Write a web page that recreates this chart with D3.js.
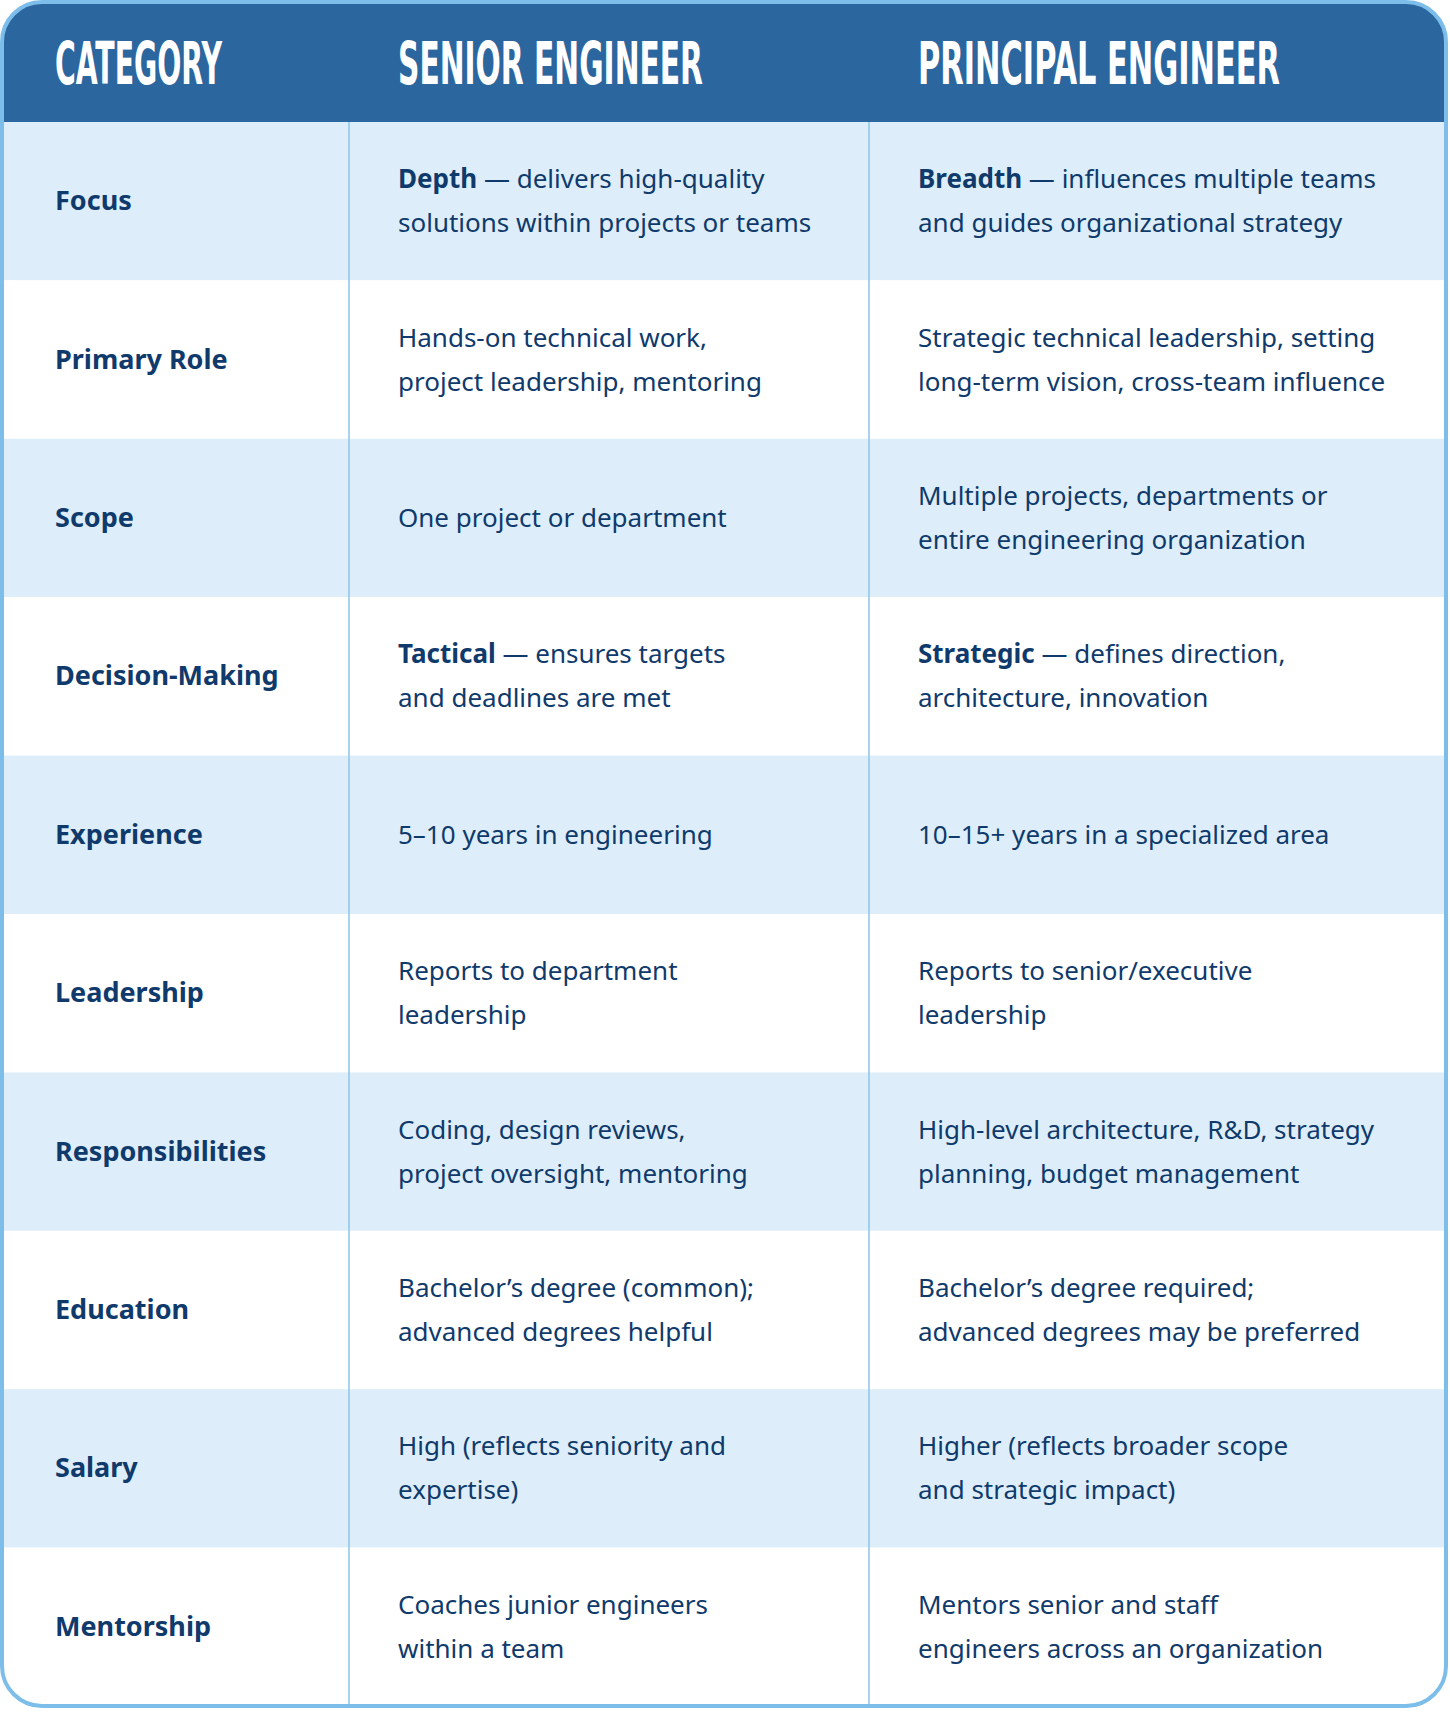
<!DOCTYPE html><html><head><meta charset="utf-8"><script src="https://cdn.jsdelivr.net/npm/d3@7"></script>
<style>body{margin:0;background:#fff}</style></head><body><svg id="c" width="1450" height="1714"></svg>
<script>
const headers=["CATEGORY","SENIOR ENGINEER","PRINCIPAL ENGINEER"];
const categories=["Focus","Primary Role","Scope","Decision-Making","Experience","Leadership","Responsibilities","Education","Salary","Mentorship"];
const senior=[
[["Depth"," — delivers high-quality"],["","solutions within projects or teams"]],
[["","Hands-on technical work,"],["","project leadership, mentoring"]],
[["","One project or department"]],
[["Tactical"," — ensures targets"],["","and deadlines are met"]],
[["","5–10 years in engineering"]],
[["","Reports to department"],["","leadership"]],
[["","Coding, design reviews,"],["","project oversight, mentoring"]],
[["","Bachelor’s degree (common);"],["","advanced degrees helpful"]],
[["","High (reflects seniority and"],["","expertise)"]],
[["","Coaches junior engineers"],["","within a team"]]];
const principal=[
[["Breadth"," — influences multiple teams"],["","and guides organizational strategy"]],
[["","Strategic technical leadership, setting"],["","long-term vision, cross-team influence"]],
[["","Multiple projects, departments or"],["","entire engineering organization"]],
[["Strategic"," — defines direction,"],["","architecture, innovation"]],
[["","10–15+ years in a specialized area"]],
[["","Reports to senior/executive"],["","leadership"]],
[["","High-level architecture, R&D, strategy"],["","planning, budget management"]],
[["","Bachelor’s degree required;"],["","advanced degrees may be preferred"]],
[["","Higher (reflects broader scope"],["","and strategic impact)"]],
[["","Mentors senior and staff"],["","engineers across an organization"]]];
(function(){
const svg=d3.select("#c");
const W=1446,T0=2,L0=2,H=1706,R=40,headH=120;
const y=d3.scaleBand().domain(d3.range(categories.length)).range([T0+headH,H]);
const colX=[55,398,918],divX=[349,869];
svg.append("clipPath").attr("id","cp").append("rect").attr("x",L0).attr("y",T0).attr("width",W-L0).attr("height",H-T0).attr("rx",R);
const g=svg.append("g").attr("clip-path","url(#cp)");
g.append("rect").attr("x",0).attr("y",0).attr("width",1450).attr("height",T0+headH).attr("fill","#2b669f");
g.selectAll("rect.row").data(categories).join("rect").attr("x",0).attr("y",(d,i)=>y(i)).attr("width",1450).attr("height",y.bandwidth()).attr("fill",(d,i)=>i%2==0?"#ddeefa":"#fff");
g.selectAll("line.div").data(divX).join("line").attr("x1",d=>d).attr("x2",d=>d).attr("y1",T0+headH).attr("y2",H).attr("stroke","#8cc6ea").attr("stroke-width",1.5);
svg.selectAll("text.h").data(headers).join("text").attr("x",(d,i)=>colX[i]).attr("y",T0+headH/2+22).text(d=>d)
 .attr("font-family","'Liberation Sans Narrow','DejaVu Sans Condensed',sans-serif").attr("font-weight","bold").attr("font-size",58).attr("fill","#fff").attr("textLength",(d,i)=>[167,305,362][i]).attr("lengthAdjust","spacingAndGlyphs");
const tc="#0f3a6b",ff="'Noto Sans',sans-serif";
svg.selectAll("text.c").data(categories).join("text").attr("x",colX[0]).attr("y",(d,i)=>y(i)+y.bandwidth()/2+9).text(d=>d)
 .attr("font-family",ff).attr("font-weight","bold").attr("font-size",27).attr("fill",tc);
[senior,principal].forEach((col,ci)=>{
 col.forEach((lines,ri)=>{
  const cy=y(ri)+y.bandwidth()/2;
  lines.forEach((ln,li)=>{
   const yy=cy+9+(lines.length==1?0:(li-0.5)*44);
   const t=svg.append("text").attr("x",colX[ci+1]).attr("y",yy).attr("font-family",ff).attr("font-size",26).attr("fill",tc);
   if(ln[0])t.append("tspan").attr("font-weight","bold").text(ln[0]);
   t.append("tspan").text(ln[1]);
  });
 });
});
svg.append("rect").attr("x",L0).attr("y",T0).attr("width",W-L0).attr("height",H-T0).attr("rx",R).attr("fill","none").attr("stroke","#7dbde9").attr("stroke-width",4);
})();
</script></body></html>
